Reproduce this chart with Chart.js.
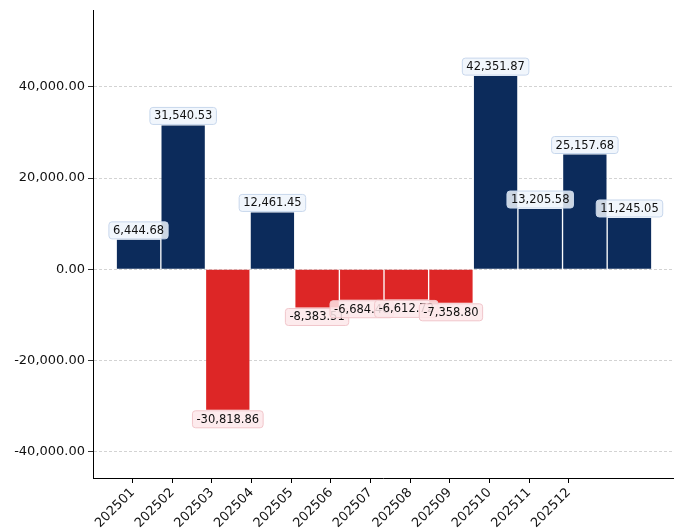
<!DOCTYPE html>
<html>
<head>
<meta charset="utf-8">
<script src="https://cdn.jsdelivr.net/npm/chart.js@4"></script>
<style>
  html, body { margin: 0; padding: 0; background: #fff; }
  #wrap { width: 681px; height: 531px; }
</style>
</head>
<body>
<div id="wrap"><canvas id="pnlChart" width="681" height="531"></canvas></div>
<script>
  const months = ["202501", "202502", "202503", "202504", "202505", "202506",
                  "202507", "202508", "202509", "202510", "202511", "202512"];
  const pnl = [6444.68, 31540.53, -30818.86, 12461.45, -8383.51, -6684.46,
               -6612.72, -7358.80, 42351.87, 13205.58, 25157.68, 11245.05];
  const yTicks = [-40000, -20000, 0, 20000, 40000];

  const fontFamily = "'DejaVu Sans', sans-serif";
  const posColor = "#0c2b5b";
  const negColor = "#dd2626";

  // x range in bar units, ticks are offset from bars like in the source plot
  const xMin = -1.02, xMax = 11.975;
  const tickStart = -0.13, tickStep = 0.888;

  const fmt2 = (v) => v.toLocaleString("en-US", { minimumFractionDigits: 2, maximumFractionDigits: 2 });

  function roundRect(ctx, x, y, w, h, r) {
    ctx.beginPath();
    ctx.moveTo(x + r, y);
    ctx.lineTo(x + w - r, y);
    ctx.quadraticCurveTo(x + w, y, x + w, y + r);
    ctx.lineTo(x + w, y + h - r);
    ctx.quadraticCurveTo(x + w, y + h, x + w - r, y + h);
    ctx.lineTo(x + r, y + h);
    ctx.quadraticCurveTo(x, y + h, x, y + h - r);
    ctx.lineTo(x, y + r);
    ctx.quadraticCurveTo(x, y, x + r, y);
    ctx.closePath();
  }

  const valueLabels = {
    id: "valueLabels",
    afterDatasetsDraw(chart) {
      const ctx = chart.ctx;
      const meta = chart.getDatasetMeta(0);
      ctx.save();
      ctx.font = "11.5px " + fontFamily;
      ctx.textAlign = "center";
      ctx.textBaseline = "middle";
      meta.data.forEach((bar, i) => {
        const v = pnl[i];
        const text = fmt2(v);
        const w = ctx.measureText(text).width + 8;
        const h = 17;
        const cx = bar.x;
        const top = v >= 0 ? bar.y - 1 - h : bar.y + 1;
        roundRect(ctx, cx - w / 2, top, w, h, 3);
        ctx.globalAlpha = 0.85;
        ctx.fillStyle = v >= 0 ? "#eef4fc" : "#fde8ea";
        ctx.fill();
        ctx.globalAlpha = 1;
        ctx.lineWidth = 1;
        ctx.strokeStyle = v >= 0 ? "#c8d7ec" : "#f1c6cb";
        ctx.stroke();
        ctx.fillStyle = "#111";
        ctx.fillText(text, cx, top + h / 2 + 0.5);
      });
      ctx.restore();
    },
  };

  const ctx = document.getElementById("pnlChart").getContext("2d");
  new Chart(ctx, {
    type: "bar",
    data: {
      datasets: [
        {
          data: pnl.map((v, i) => ({ x: i, y: v })),
          backgroundColor: pnl.map((v) => (v >= 0 ? posColor : negColor)),
          borderWidth: 0,
          barPercentage: 0.97,
          categoryPercentage: 1,
        },
      ],
    },
    options: {
      responsive: false,
      animation: false,
      devicePixelRatio: 1,
      layout: { padding: { left: 0, right: 8, top: 8, bottom: 0 } },
      plugins: { legend: { display: false }, tooltip: { enabled: false } },
      scales: {
        x: {
          type: "linear",
          min: xMin,
          max: xMax,
          offset: false,
          display: false,
        },
        xt: {
          type: "linear",
          position: "bottom",
          min: xMin,
          max: xMax,
          offset: false,
          afterBuildTicks: (scale) => {
            scale.ticks = months.map((m, i) => ({ value: tickStart + tickStep * i }));
          },
          afterFit: (scale) => { scale.height = 53; },
          border: { display: true, color: "#000", width: 1 },
          grid: { offset: false, drawOnChartArea: false, drawTicks: true, tickLength: 5, tickColor: "#000", color: "#000" },
          ticks: {
            autoSkip: false,
            maxRotation: 45,
            minRotation: 45,
            padding: 2,
            color: "#111",
            font: { family: fontFamily, size: 13 },
            callback: (value, index) => months[index],
          },
        },
        y: {
          min: -45776,
          max: 56676,
          afterBuildTicks: (scale) => {
            scale.ticks = yTicks.map((v) => ({ value: v }));
          },
          afterFit: (scale) => { scale.width = 93; },
          border: { display: true, color: "#000", width: 1, dash: [3, 2] },
          grid: {
            color: "#c8c8c8",
            tickColor: "#000",
            tickLength: 5,
            lineWidth: 0.8,
          },
          ticks: {
            padding: 3,
            color: "#111",
            font: { family: fontFamily, size: 13 },
            callback: (v) => fmt2(v),
          },
        },
      },
    },
    plugins: [valueLabels],
  });
</script>
</body>
</html>
